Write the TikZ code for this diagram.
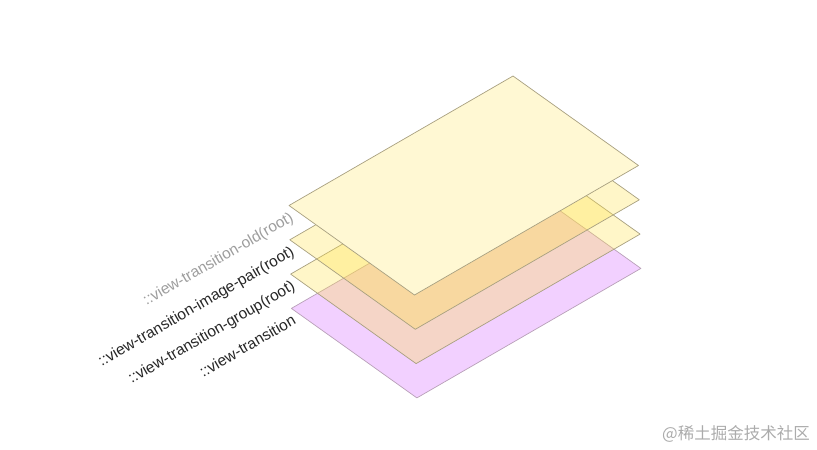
\documentclass[tikz,border=0pt]{standalone}
\usepackage{fontspec}
\setmainfont{Liberation Sans}
\newfontfamily\cjkfont{Noto Sans CJK SC}
\definecolor{topfill}{HTML}{FFF8D3}
\definecolor{yel}{HTML}{FFE148}
\definecolor{pinkfill}{HTML}{F2D0FF}
\definecolor{yedge}{HTML}{A8A080}
\definecolor{pedge}{HTML}{B8A0B8}
\definecolor{oldtxt}{HTML}{8C8C8C}
\definecolor{wm}{HTML}{ABABAB}
\tikzset{
  layerlbl/.style={anchor=base east, rotate=30, inner sep=0pt, font=\fontsize{15.5}{15.5}\selectfont, text=black!85},
}
\begin{document}
\begin{tikzpicture}[x=1pt,y=-1pt]
\useasboundingbox (0,0) rectangle (817,450);
% layer k: L=(289,205.5)+k*(0.8,34.3), B=(414.5,295), R=(638.5,165.5)
\foreach \k/\nm in {3/vt,2/grp,1/pair,0/old}{
  \coordinate (L\nm) at ({289+0.8*\k},{205.5+34.3*\k});
  \coordinate (B\nm) at ({414.5+0.8*\k},{295+34.3*\k});
  \coordinate (R\nm) at ({638.5+0.8*\k},{165.5+34.3*\k});
  \coordinate (T\nm) at ({513+0.8*\k},{76+34.3*\k});
}
\fill[pinkfill] (Lvt) -- (Bvt) -- (Rvt) -- (Tvt) -- cycle;
\draw[pedge, line width=0.7pt, line join=round] (Lvt) -- (Bvt) -- (Rvt) -- (Tvt) -- cycle;
\foreach \nm in {grp,pair}{
  \fill[yel, fill opacity=0.3] (L\nm) -- (B\nm) -- (R\nm) -- (T\nm) -- cycle;
  \draw[yedge, line width=0.7pt, line join=round] (L\nm) -- (B\nm) -- (R\nm) -- (T\nm) -- cycle;
}
\fill[topfill] (Lold) -- (Bold) -- (Rold) -- (Told) -- cycle;
\draw[yedge, line width=0.7pt, line join=round] (Lold) -- (Bold) -- (Rold) -- (Told) -- cycle;
% labels
\node[layerlbl, text=oldtxt, text opacity=0.85] (lold) at ([shift={(5.5,15)}]Lold) {::view-transition-old(root)};
\node[layerlbl] (lpair) at ([shift={(5.5,15)}]Lpair) {::view-transition-image-pair(root)};
\node[layerlbl] (lgrp) at ([shift={(5.5,15)}]Lgrp) {::view-transition-group(root)};
\node[layerlbl] (lvt) at ([shift={(5.5,15)}]Lvt) {::view-transition};
% watermark
\node[anchor=east, inner sep=0pt, text=wm, font=\cjkfont\fontsize{16.5}{16.5}\selectfont] (wmk) at (810,434) {@稀土掘金技术社区};
\end{tikzpicture}
\end{document}
